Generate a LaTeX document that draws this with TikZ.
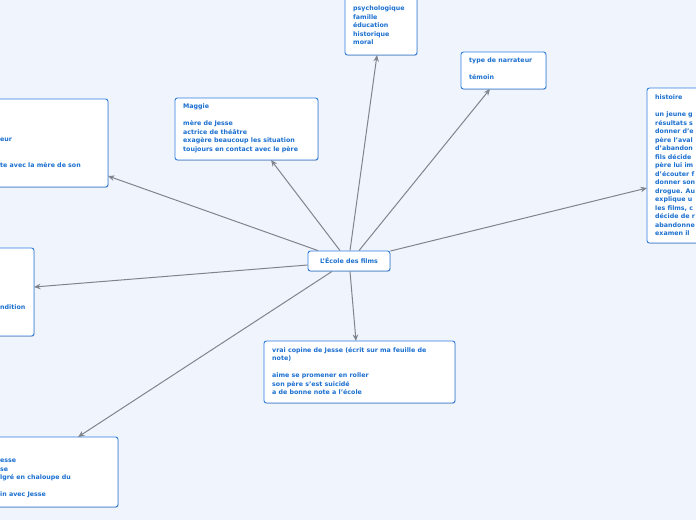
\documentclass[tikz,border=0pt]{standalone}
\usepackage{fontspec}
\setmainfont{DejaVu Sans}
\usetikzlibrary{arrows.meta,shadows}
\definecolor{bg}{HTML}{F0F4FD}
\definecolor{bd}{HTML}{2F7DE1}
\definecolor{tx}{HTML}{1A6FD0}
\definecolor{ln}{HTML}{80848E}
\tikzset{
 box/.style={draw=bd,line width=0.9pt,fill=white,rounded corners=2.5pt,drop shadow={shadow xshift=0.6pt,shadow yshift=-0.8pt,opacity=0.35}},
 txt/.style={anchor=north west,inner sep=0,align=left,text=tx,font=\bfseries\fontsize{6.3}{8.5}\selectfont},
 con/.style={draw=ln,line width=1pt,-{Stealth[length=6.5pt,width=5.5pt]}}
}
\begin{document}
\begin{tikzpicture}[x=1pt,y=-1pt]
\fill[bg] (0,0) rectangle (696,520);
\clip (0,0) rectangle (696,520);
\draw[box] (345,-5) rectangle (417,55);
\node[txt] (top) at (353,6) {psychologique\\famille\\éducation\\historique\\moral};
\draw[box] (461,52) rectangle (546,89);
\node[txt] (nar) at (469,58) {type de narrateur\\[8.5pt]témoin};
\draw[box] (647,88) rectangle (710,243);
\node[txt] (his) at (655,95) {histoire\\[8.5pt]un jeune g\\résultats s\\donner d'e\\père l'aval\\d'abandon\\fils décide\\père lui im\\d'écouter f\\donner son\\drogue. Au\\explique u\\les films, c\\décide de r\\abandonne\\examen il};
\draw[box] (175,98) rectangle (318,160);
\node[txt] (mag) at (183,104) {Maggie\\[8.5pt]mère de Jesse\\actrice de théâtre\\exagère beaucoup les situation\\toujours en contact avec le père};
\draw[box] (-8,99) rectangle (108,187);
\node[txt] (lt) at (0,138) {eur\\[8.5pt]\\te avec la mère de son};
\draw[box] (-8,248) rectangle (34,336);
\node[txt] (lm) at (0,305) {ndition};
\draw[box] (-8,437) rectangle (118,507);
\node[txt] (bl) at (0,459) {esse\\se\\lgré en chaloupe du\\[8.5pt]in avec Jesse};
\draw[box] (264,341) rectangle (455,403);
\node[txt] (bot) at (272,347) {vrai copine de Jesse (écrit sur ma feuille de\\note)\\[8.5pt]aime se promener en roller\\son père s'est suicidé\\a de bonne note a l'école};
\node[box,text=tx,font=\bfseries\fontsize{6.3}{7}\selectfont,minimum width=82pt,minimum height=20pt] (c) at (349,261) {L'École des films};
\coordinate (pmag) at (271,160);
\coordinate (ptop) at (377,55);
\coordinate (pnar) at (490,89);
\coordinate (phis) at (647,188);
\coordinate (plt) at (108,176);
\coordinate (plm) at (34,287);
\coordinate (pbl) at (78,437);
\coordinate (pbot) at (356,341);
\draw[con] (c.north west -| 340,0) -- (pmag);
\draw[con] (c.north west -| 350,0) -- (ptop);
\draw[con] (c.north west -| 359,0) -- (pnar);
\draw[con] (c.east |- 0,251) -- (phis);
\draw[con] (c.north west -| 318,0) -- (plt);
\draw[con] (c.west |- 0,265) -- (plm);
\draw[con] (c.south west -| 332,0) -- (pbl);
\draw[con] (c.south west -| 350,0) -- (pbot);
\end{tikzpicture}
\end{document}
